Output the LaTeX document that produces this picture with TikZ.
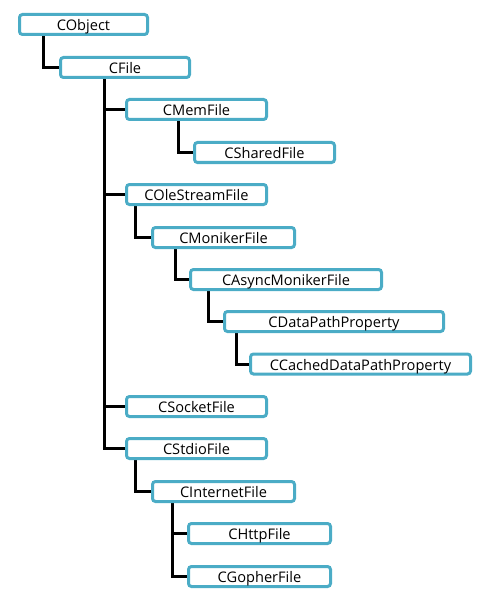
\documentclass[tikz,border=0pt]{standalone}
\usepackage{fontspec}
\setmainfont{Open Sans}
\usetikzlibrary{backgrounds}
\definecolor{borde}{RGB}{75,172,198}
\tikzset{
  clase/.style={draw=borde,line width=3pt,rounded corners=3pt,fill=white,
    minimum height=20pt,inner sep=0pt,text height=12pt,text depth=0pt,
    font=\fontsize{14.6}{16}\selectfont},
  rama/.style={line width=3pt,black}
}
\begin{document}
\begin{tikzpicture}[x=1pt,y=-1pt]
    \useasboundingbox (0,0) rectangle (480,596);
    % Clases, de arriba abajo.
    \node[clase,minimum width=128pt] (cobject) at (83.5,24.5) {CObject};
    \node[clase,minimum width=129pt] (cfile) at (125,67.5) {CFile};
    \node[clase,minimum width=140pt] (cmemfile) at (196.5,109.5) {CMemFile};
    \node[clase,minimum width=140pt] (csharedfile) at (264.5,152.5) {CSharedFile};
    \node[clase,minimum width=140pt] (colestream) at (196.5,194.5) {COleStreamFile};
    \node[clase,minimum width=142pt] (cmoniker) at (223.5,237.5) {CMonikerFile};
    \node[clase,minimum width=191pt] (casync) at (286,279.5) {CAsyncMonikerFile};
    \node[clase,minimum width=219pt] (cdatapath) at (334,321.5) {CDataPathProperty};
    \node[clase,minimum width=220pt] (ccached) at (360.5,364) {CCachedDataPathProperty};
    \node[clase,minimum width=140pt] (csocket) at (196.5,406.5) {CSocketFile};
    \node[clase,minimum width=140pt] (cstdio) at (196.5,448.5) {CStdioFile};
    \node[clase,minimum width=142pt] (cinternet) at (223.5,491.5) {CInternetFile};
    \node[clase,minimum width=142pt] (chttp) at (259.5,533.5) {CHttpFile};
    \node[clase,minimum width=142pt] (cgopher) at (259.5,576.5) {CGopherFile};

    % Ramas de la herencia, por debajo de las cajas.
    \begin{scope}[on background layer]
    \draw[rama] (cobject.south west) ++(25,0) |- (cfile.west);
    \draw[rama] (cfile.south west) ++(45,0) |- (cstdio.west);
    \draw[rama] (cfile.south west) ++(45,0) |- (cmemfile.west);
    \draw[rama] (cfile.south west) ++(45,0) |- (colestream.west);
    \draw[rama] (cfile.south west) ++(45,0) |- (csocket.west);
    \draw[rama] (cmemfile.south west) ++(53,0) |- (csharedfile.west);
    \draw[rama] (colestream.south west) ++(10,0) |- (cmoniker.west);
    \draw[rama] (cmoniker.south west) ++(24,0) |- (casync.west);
    \draw[rama] (casync.south west) ++(19,0) |- (cdatapath.west);
    \draw[rama] (cdatapath.south west) ++(13,0) |- (ccached.west);
    \draw[rama] (cstdio.south west) ++(10,0) |- (cinternet.west);
    \draw[rama] (cinternet.south west) ++(21,0) |- (cgopher.west);
    \draw[rama] (cinternet.south west) ++(21,0) |- (chttp.west);
    \end{scope}
\end{tikzpicture}
\end{document}
